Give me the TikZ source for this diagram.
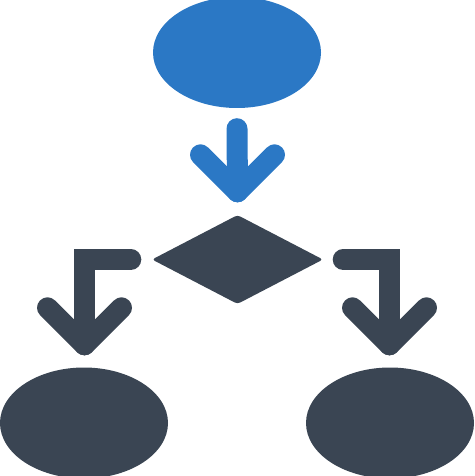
\documentclass[tikz,border=0pt]{standalone}
\usepackage{tikz}
\usetikzlibrary{calc, shapes.geometric}
\definecolor{flowblue}{RGB}{43,120,197}
\definecolor{flowdark}{RGB}{58,69,83}
\tikzset{
  blob/.style={ellipse, inner sep=0pt, minimum width=168pt, minimum height=111pt},
  flow/.style={line width=21pt, line cap=round, line join=miter},
  head/.style={line width=21pt, line cap=round, line join=round}
}
\begin{document}
\begin{tikzpicture}[x=1pt, y=-1pt]
                \useasboundingbox (0,0) rectangle (474,476);
                \clip (0,0) rectangle (474,476);
                % Khoi
                \node[blob, fill=flowblue] (start) at (237,52.5) {};
                \node[diamond, inner sep=0pt, minimum width=171pt, minimum height=89pt,
                      rounded corners=3pt, fill=flowdark] (dec) at (237.5,259.5) {};
                \node[blob, fill=flowdark] (left) at (84,423) {};
                \node[blob, fill=flowdark] (right) at (390,423) {};
                % Mui ten tren
                \coordinate (tipA) at ($(dec.north)+(0,-23)$);
                \draw[flow, flowblue] ($(start.south)+(0,20.5)$) -- (tipA);
                \draw[head, flowblue] ($(tipA)+(-37,-37)$) -- (tipA) -- ($(tipA)+(37,-37)$);
                % Mui ten trai
                \coordinate (tipL) at ($(left.north)+(0.5,-22.5)$);
                \draw[flow, flowdark] ($(dec.west)+(-21,0)$) -| (tipL);
                \draw[head, flowdark] ($(tipL)+(-37,-37)$) -- (tipL) -- ($(tipL)+(37,-37)$);
                % Mui ten phai
                \coordinate (tipR) at ($(right.north)+(-0.5,-22.5)$);
                \draw[flow, flowdark] ($(dec.east)+(20,0)$) -| (tipR);
                \draw[head, flowdark] ($(tipR)+(-37,-37)$) -- (tipR) -- ($(tipR)+(37,-37)$);
            \end{tikzpicture}
\end{document}
